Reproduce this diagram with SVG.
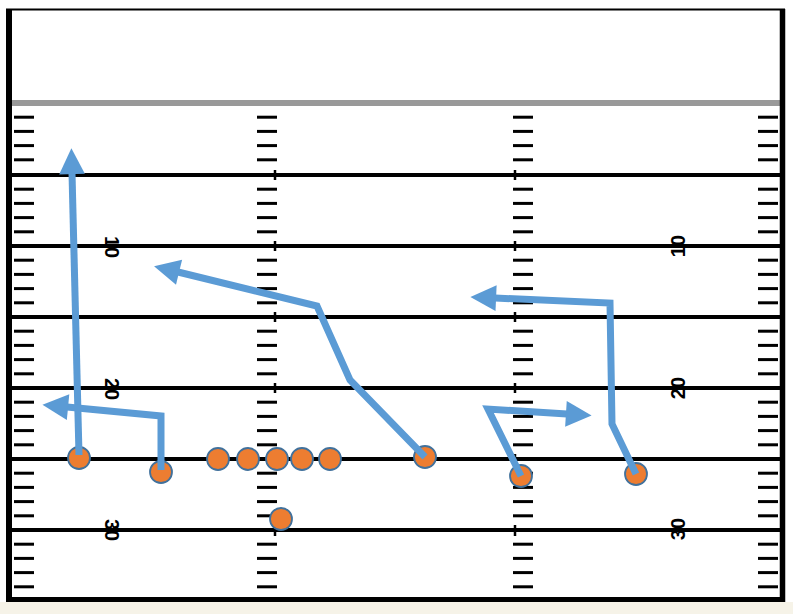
<svg xmlns="http://www.w3.org/2000/svg" width="793" height="614" viewBox="0 0 793 614">
<style>
.yard{stroke:#000;stroke-width:4;fill:none}
.tick{stroke:#000;stroke-width:3}
.xt{stroke:#000;stroke-width:2.5}
.num{font-family:"Liberation Sans",Arial,sans-serif;font-size:20px;font-weight:bold;fill:#000;text-anchor:middle;dominant-baseline:central}
.player{fill:#ED7D31;stroke:#41719C;stroke-width:1.8}
.route{fill:none;stroke:#5B9BD5;stroke-width:7;stroke-linejoin:miter;marker-end:url(#ah)}
</style>
<defs>
<marker id="ah" markerUnits="userSpaceOnUse" markerWidth="30" markerHeight="30" viewBox="-2 -13 28 26" refX="1" refY="0" orient="auto">
<path d="M0,-12 L24,0 L0,12 z" fill="#5B9BD5"/>
</marker>
<g id="tk4">
<line class="tick" x1="0" y1="14.2" x2="20" y2="14.2"/>
<line class="tick" x1="0" y1="28.4" x2="20" y2="28.4"/>
<line class="tick" x1="0" y1="42.6" x2="20" y2="42.6"/>
<line class="tick" x1="0" y1="56.8" x2="20" y2="56.8"/>
</g>
<g id="col">
<use href="#tk4" y="103"/>
<use href="#tk4" y="175"/>
<use href="#tk4" y="246"/>
<use href="#tk4" y="317"/>
<use href="#tk4" y="388"/>
<use href="#tk4" y="459"/>
<use href="#tk4" y="530"/>
</g>
</defs>
<rect x="0" y="0" width="793" height="614" fill="#FFFFFF"/>
<rect x="0" y="602" width="793" height="12" fill="#F6F3E8"/>
<g id="field">
<line x1="6" y1="9.5" x2="785" y2="9.5" stroke="#000" stroke-width="2"/>
<line x1="6" y1="103" x2="782" y2="103" stroke="#999" stroke-width="6"/>
<line class="yard" x1="9" y1="175" x2="782" y2="175"/>
<line class="yard" x1="9" y1="246" x2="782" y2="246"/>
<line class="yard" x1="9" y1="317" x2="782" y2="317"/>
<line class="yard" x1="9" y1="388" x2="782" y2="388"/>
<line class="yard" x1="9" y1="459" x2="782" y2="459"/>
<line class="yard" x1="9" y1="530" x2="782" y2="530"/>
<line x1="6" y1="599.5" x2="785" y2="599.5" stroke="#000" stroke-width="5"/>
<line x1="9" y1="9" x2="9" y2="602" stroke="#000" stroke-width="6"/>
<line x1="782.5" y1="9" x2="782.5" y2="602" stroke="#000" stroke-width="5.5"/>
</g>
<g id="hashes">
<use href="#col" x="14"/>
<use href="#col" x="257"/>
<use href="#col" x="513"/>
<use href="#col" x="758"/>
<line class="xt" x1="275" y1="170" x2="275" y2="180"/>
<line class="xt" x1="275" y1="241" x2="275" y2="251"/>
<line class="xt" x1="275" y1="312" x2="275" y2="322"/>
<line class="xt" x1="275" y1="383" x2="275" y2="393"/>
<line class="xt" x1="275" y1="454" x2="275" y2="464"/>
<line class="xt" x1="275" y1="525" x2="275" y2="536"/>
<line class="xt" x1="515" y1="170" x2="515" y2="180"/>
<line class="xt" x1="515" y1="241" x2="515" y2="251"/>
<line class="xt" x1="515" y1="312" x2="515" y2="322"/>
<line class="xt" x1="515" y1="383" x2="515" y2="393"/>
<line class="xt" x1="515" y1="454" x2="515" y2="464"/>
<line class="xt" x1="515" y1="525" x2="515" y2="536"/>
</g>
<g id="numbers">
<text class="num" transform="translate(112,247) rotate(90)">10</text>
<text class="num" transform="translate(112,389) rotate(90)">20</text>
<text class="num" transform="translate(112,530) rotate(90)">30</text>
<text class="num" transform="translate(678,246) rotate(-90)">10</text>
<text class="num" transform="translate(678,388) rotate(-90)">20</text>
<text class="num" transform="translate(678,529) rotate(-90)">30</text>
</g>
<g id="players">
<circle id="p1" class="player" cx="79" cy="458" r="11"/>
<circle id="p2" class="player" cx="161" cy="472" r="11"/>
<circle id="p3" class="player" cx="218" cy="459" r="11"/>
<circle id="p4" class="player" cx="248" cy="459" r="11"/>
<circle id="p5" class="player" cx="277" cy="459" r="11"/>
<circle id="p6" class="player" cx="302" cy="459" r="11"/>
<circle id="p7" class="player" cx="330" cy="459" r="11"/>
<circle id="p8" class="player" cx="281" cy="519" r="11"/>
<circle id="p9" class="player" cx="425" cy="457" r="11"/>
<circle id="p10" class="player" cx="521" cy="476" r="11"/>
<circle id="p11" class="player" cx="636" cy="474" r="11"/>
</g>
<g id="connectors">
<polyline class="route" points="79,455 72,173"/>
<polyline class="route" points="161,470 161,416 67,407"/>
<polyline class="route" points="425,457 350,380 317,306 178,272"/>
<polyline class="route" points="636,474 612,424 610,303 495,298"/>
<polyline class="route" points="521,476 488,409 567,414"/>
</g>
</svg>
